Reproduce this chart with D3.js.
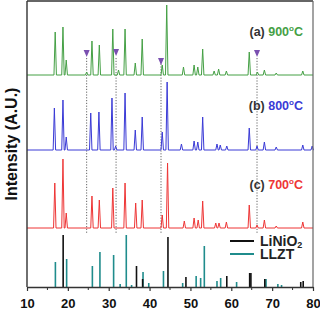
<!DOCTYPE html>
<html>
<head>
<meta charset="utf-8">
<script src="https://cdn.jsdelivr.net/npm/d3@7"></script>
<style>
  body { margin: 0; background: #fff; }
  text { font-family: Arial, "Liberation Sans", sans-serif; }
</style>
</head>
<body>
<div id="chart"></div>
<script>
// peak lists: [2theta, height above pattern baseline]
const peaks900 = [[16.9, 43], [18.8, 48], [19.6, 15], [24.6, 3], [25.9, 34], [27.7, 30], [31.0, 46], [32.4, 5],
  [34.0, 46], [36.5, 12], [38.2, 36], [43.1, 10], [44.2, 70], [48.3, 8], [50.9, 10], [51.8, 8], [53.0, 26],
  [55.8, 4], [56.9, 6], [58.8, 4], [64.4, 23], [66.4, 3], [68.1, 5], [71.0, 2], [77.5, 4]];
const peaks800 = [[16.7, 42], [18.8, 50], [19.6, 13], [25.6, 37], [27.6, 38], [30.8, 52], [31.7, 4],
  [34.0, 57], [36.5, 20], [38.2, 33], [43.1, 18], [44.3, 68], [47.8, 6], [50.9, 9], [51.8, 8], [53.0, 33],
  [56.5, 6], [57.3, 5], [58.9, 4], [64.4, 22], [66.3, 4], [68.1, 8], [71.0, 3], [77.5, 5], [79.8, 4]];
const peaks700 = [[16.8, 45], [18.8, 69], [19.6, 15], [25.9, 32], [27.7, 28], [31.0, 40], [34.0, 45],
  [36.6, 25], [38.2, 28], [43.1, 13], [44.4, 65], [48.5, 7], [50.9, 10], [51.9, 8], [53.0, 27], [56.2, 5],
  [57.0, 5], [58.8, 6], [64.4, 23], [66.3, 3], [68.1, 8], [71.0, 2], [77.5, 6]];
const stickLiNiO2 = [[18.85, 52], [36.8, 21], [38.3, 8], [44.5, 50], [48.9, 10], [58.9, 11], [64.5, 14],
  [64.8, 14], [68.2, 8], [77.0, 5], [77.6, 6]];
const stickLLZT = [[16.95, 25], [19.7, 28], [26.0, 21], [27.85, 35], [31.2, 32], [32.8, 3], [34.3, 52],
  [35.6, 2], [38.4, 15], [39.8, 4], [43.4, 16], [48.1, 4], [51.4, 11], [52.5, 9], [53.4, 41], [56.5, 6],
  [57.4, 9], [61.3, 5], [68.5, 8], [71.4, 3], [72.3, 2]];
const markers = [24.6, 31.8, 42.8, 66.3];
const xTicks = [10, 20, 30, 40, 50, 60, 70, 80];
const minorTicks = [15, 25, 35, 45, 55, 65, 75];

const width = 320, height = 320;
const mLeft = 27, mRight = 313, mTop = 1, mBottom = 287;

const svg = d3.select("#chart").append("svg")
  .attr("width", width).attr("height", height);

const x = d3.scaleLinear().domain([10, 80]).range([mLeft, mRight]);
const y = d3.scaleLinear().domain([0, 286]).range([mBottom, mTop]);

function patternPoints(peaks) {
  const pts = [[10, 0]];
  peaks.forEach(p => {
    pts.push([p[0] - 0.3, 0], [p[0], p[1]], [p[0] + 0.3, 0]);
  });
  pts.push([80, 0]);
  return pts;
}

const patterns = [
  { peaks: peaks900, offset: 212, color: "#45a045", tag: "(a) ", label: "900", ly: 36 },
  { peaks: peaks800, offset: 137, color: "#3a3ad6", tag: "(b) ", label: "800", ly: 110 },
  { peaks: peaks700, offset: 59, color: "#ee3535", tag: "(c) ", label: "700", ly: 189 }
];

// dotted guide lines
svg.selectAll(".guide").data(markers).enter()
  .append("line")
    .attr("x1", d => x(d)).attr("x2", d => x(d))
    .attr("y1", 58).attr("y2", 233)
    .attr("stroke", "#555").attr("stroke-width", 0.9)
    .attr("stroke-dasharray", "1.2,1.6");

const line = d3.line()
  .x(d => x(d[0]))
  .y(d => d[1]);

patterns.forEach(p => {
  svg.append("path")
    .attr("d", line(patternPoints(p.peaks).map(d => [d[0], y(d[1] + p.offset)])))
    .attr("fill", "none")
    .attr("stroke", p.color)
    .attr("stroke-width", 1)
    .attr("stroke-linejoin", "round");

  const t = svg.append("text")
    .attr("x", 303).attr("y", p.ly)
    .attr("text-anchor", "end")
    .attr("font-size", 12.5).attr("font-weight", "bold");
  t.append("tspan").attr("fill", "#333").text(p.tag);
  t.append("tspan").attr("fill", p.color).text(p.label);
  t.append("tspan").attr("fill", p.color).attr("font-size", 8).attr("dy", -5).text("o");
  t.append("tspan").attr("fill", p.color).attr("dy", 5).text("C");
});

// purple triangles
svg.selectAll(".mark").data(markers).enter()
  .append("path")
    .attr("d", d => `M${x(d) - 3},50 L${x(d) + 3},50 L${x(d)},57 Z`)
    .attr("transform", (d, i) => i === 2 ? "translate(0,8)" : (i === 1 ? "translate(0,-1)" : "translate(0,0)"))
    .attr("fill", "#7a4fb0");

// reference sticks
svg.selectAll(".llzt").data(stickLLZT).enter()
  .append("line")
    .attr("x1", d => x(d[0])).attr("x2", d => x(d[0]))
    .attr("y1", y(0)).attr("y2", d => y(d[1]))
    .attr("stroke", "#1f8c8c").attr("stroke-width", 1.6);
svg.selectAll(".lini").data(stickLiNiO2).enter()
  .append("line")
    .attr("x1", d => x(d[0])).attr("x2", d => x(d[0]))
    .attr("y1", y(0)).attr("y2", d => y(d[1]))
    .attr("stroke", "#111").attr("stroke-width", 1.6);

// legend
const legend = [{ name: "LiNiO", sub: "2", color: "#111", ly: 241 }, { name: "LLZT", sub: "", color: "#1f8c8c", ly: 254 }];
legend.forEach(l => {
  svg.append("line").attr("x1", 230).attr("x2", 254).attr("y1", l.ly).attr("y2", l.ly)
    .attr("stroke", l.color).attr("stroke-width", 2);
  const t = svg.append("text").attr("x", 260).attr("y", l.ly + 5)
    .attr("font-size", 14).attr("font-weight", "bold").attr("fill", "#222");
  t.append("tspan").text(l.name);
  if (l.sub) t.append("tspan").attr("font-size", 9).attr("dy", 1.5).text(l.sub);
});

// frame
svg.append("line").attr("x1", mLeft).attr("x2", mRight).attr("y1", mTop).attr("y2", mTop)
  .attr("stroke", "#666").attr("stroke-width", 2);
svg.append("line").attr("x1", mRight).attr("x2", mRight).attr("y1", mTop).attr("y2", mBottom)
  .attr("stroke", "#666").attr("stroke-width", 1.2);
svg.append("line").attr("x1", mLeft).attr("x2", mLeft).attr("y1", mTop).attr("y2", mBottom)
  .attr("stroke", "#333").attr("stroke-width", 1.4);

// x axis
const xAxis = d3.axisBottom(x).tickValues(xTicks).tickSize(4).tickSizeOuter(0).tickPadding(8);
const gx = svg.append("g").attr("transform", `translate(0,${mBottom})`).call(xAxis);
gx.select(".domain").attr("stroke", "#333").attr("stroke-width", 1.4);
gx.selectAll(".tick line").attr("stroke", "#333").attr("stroke-width", 1.2);
gx.selectAll("text").attr("font-size", 13).attr("font-weight", "bold").attr("fill", "#111")
  .attr("font-family", "Arial, 'Liberation Sans', sans-serif");
svg.append("g").selectAll("line").data(minorTicks).enter()
  .append("line")
    .attr("x1", d => x(d)).attr("x2", d => x(d))
    .attr("y1", mBottom).attr("y2", mBottom + 3)
    .attr("stroke", "#333").attr("stroke-width", 1);

// y label
svg.append("text")
  .attr("transform", "translate(17,144) rotate(-90)")
  .attr("text-anchor", "middle")
  .attr("font-size", 16).attr("font-weight", "bold").attr("fill", "#111")
  .text("Intensity (A.U.)");
</script>
</body>
</html>
